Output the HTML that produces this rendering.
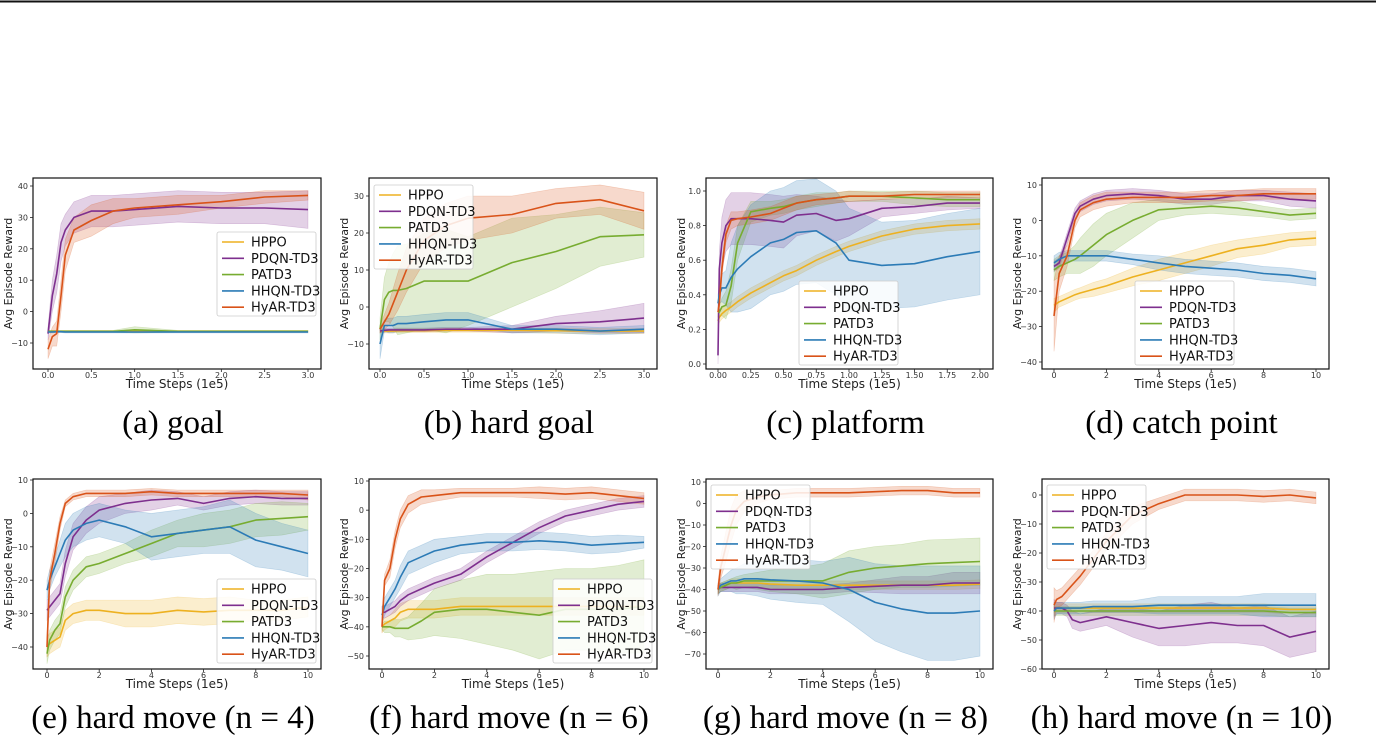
<!DOCTYPE html>
<html><head><meta charset="utf-8">
<style>
html,body{margin:0;padding:0;background:#fff;}
svg{display:block;}
text{font-family:"DejaVu Sans","Liberation Sans",sans-serif;}
.cap{font-family:"Liberation Serif",serif;font-size:33px;fill:#000;}
</style></head>
<body>
<svg id="fig" width="1376" height="740" viewBox="0 0 1376 740" xmlns="http://www.w3.org/2000/svg">
<rect x="0" y="0" width="1376" height="740" fill="#fff"/>
<rect x="0" y="0.5" width="1376" height="2" fill="#111"/>
</svg>
<script>
// ---------- data ----------
const seriesNames = ["HPPO","PDQN-TD3","PATD3","HHQN-TD3","HyAR-TD3"];
const seriesColors = ["#EDB120","#7E2F8E","#77AC30","#2C7BB6","#D95319"];

const xsA = [0,0.05,0.1,0.15,0.2,0.3,0.5,0.75,1.0,1.5,2.0,2.5,3.0];
const meanA = [
 [-6.3,-6.3,-6.3,-6.3,-6.3,-6.3,-6.3,-6.3,-6.2,-6.3,-6.3,-6.3,-6.3],
 [-7,5,12,22,26,30,32,32,32.5,33.5,33,33,32.5],
 [-6.3,-6.3,-6.3,-6.3,-6.3,-6.3,-6.3,-6.3,-5.8,-6.3,-6.3,-6.3,-6.3],
 [-6.5,-6.5,-6.4,-6.4,-6.5,-6.5,-6.5,-6.5,-6.5,-6.5,-6.5,-6.5,-6.5],
 [-12,-8,-7,5,18,26,29,32,33,34,35,36.5,37]];
const bandA = [
 [0.3,0.3,0.3,0.3,0.3,0.3,0.3,0.3,0.3,0.3,0.3,0.3,0.3],
 [2,5,6,6,5,5,5,5,5,5,5,5,6],
 [0.3,0.3,0.3,0.3,0.3,0.3,0.3,0.3,1,0.3,0.3,0.3,0.3],
 [0.3,0.3,0.3,0.3,0.3,0.3,0.3,0.3,0.3,0.3,0.3,0.3,0.3],
 [3,3,4,5,5,4,5,4,3,3,2,2,1.5]];

const xsB = [0,0.05,0.1,0.15,0.2,0.3,0.5,0.75,1.0,1.5,2.0,2.5,3.0];
const meanB = [
 [-6.5,-6.5,-6.5,-6.5,-6.4,-6.4,-6.4,-6.3,-6.3,-6.3,-6.4,-6.5,-6.5],
 [-6.5,-6.3,-6.2,-6.2,-6.2,-6.2,-6.2,-6,-6,-6,-4.5,-4,-3],
 [-6,2,4,4.5,4.5,5,7,7,7,12,15,19,19.5],
 [-10,-5,-5,-5,-4.5,-4.5,-4,-3.5,-3.5,-6,-6,-6.5,-6],
 [-6,-4,-2,1,4,10,18,22,24,25,28,29,26]];
const bandB = [
 [0.5,0.5,0.5,0.5,0.5,0.5,0.5,0.5,0.5,0.5,0.7,0.7,0.7],
 [0.5,0.5,0.5,0.5,0.5,0.5,0.5,0.5,0.5,1,2,3,4],
 [3,6,8,10,12,12,13,14,12,12,10,8,6],
 [4,1.5,2,2,2,2,2,2,2,1,1,1,1],
 [1,2,3,4,5,6,6,6,6,5,4,4,5]];

const xsC = [0,0.01,0.03,0.06,0.1,0.15,0.25,0.4,0.5,0.6,0.75,0.9,1.0,1.25,1.5,1.75,2.0];
const meanC = [
 [0.25,0.27,0.29,0.31,0.33,0.36,0.41,0.47,0.51,0.54,0.6,0.65,0.68,0.74,0.78,0.8,0.81],
 [0.05,0.55,0.7,0.8,0.84,0.84,0.84,0.83,0.82,0.86,0.87,0.83,0.84,0.9,0.91,0.93,0.93],
 [0.3,0.3,0.33,0.34,0.45,0.7,0.88,0.9,0.91,0.93,0.95,0.96,0.97,0.97,0.96,0.95,0.95],
 [0.35,0.4,0.44,0.44,0.5,0.55,0.62,0.7,0.72,0.76,0.77,0.7,0.6,0.57,0.58,0.62,0.65],
 [0.3,0.35,0.55,0.75,0.83,0.84,0.85,0.87,0.9,0.93,0.95,0.96,0.97,0.97,0.98,0.98,0.98]];
const bandC = [
 [0.03,0.03,0.03,0.03,0.03,0.03,0.03,0.03,0.03,0.03,0.03,0.03,0.03,0.03,0.03,0.03,0.03],
 [0.05,0.1,0.15,0.15,0.15,0.15,0.15,0.15,0.15,0.12,0.1,0.12,0.1,0.05,0.04,0.04,0.03],
 [0.03,0.03,0.05,0.08,0.1,0.1,0.06,0.04,0.04,0.04,0.04,0.03,0.03,0.03,0.04,0.04,0.04],
 [0.05,0.05,0.08,0.1,0.2,0.25,0.3,0.3,0.3,0.3,0.3,0.3,0.3,0.25,0.25,0.25,0.25],
 [0.03,0.05,0.05,0.05,0.05,0.04,0.04,0.04,0.04,0.04,0.03,0.03,0.03,0.02,0.02,0.02,0.02]];

const xsD = [0,0.2,0.5,0.8,1,1.5,2,3,4,5,6,7,8,9,10];
const meanD = [
 [-24,-23,-22,-21,-20.5,-19.5,-18.5,-16,-14,-12,-10,-8,-7,-5.5,-5],
 [-13,-12,-5,2,4,6,7,7.5,7,6,6,7,7,6,5.5],
 [-14,-13,-12,-11,-10,-7,-4,0,3,3.5,4,3.5,2.5,1.5,2],
 [-12,-11,-10,-10,-10,-10,-10,-11,-12,-13,-13.5,-14,-15,-15.5,-16.5],
 [-27,-15,-10,0,3,5,6,6.5,6.5,6.5,7,7,7.5,7.5,7.5]];
const bandD = [
 [2,1.5,1.5,1.5,1.5,2,2,2.5,3,3,3,2.5,2.5,2,2],
 [1.5,1.5,1.5,1.5,1.5,1.5,1.5,1.5,1.5,1.5,1.5,1.5,1.5,2,2],
 [3,3,3,4,5,6,6,5,3,2,2,2,1.5,1.5,1.5],
 [2,2,1.5,1.5,1.5,1.5,1.5,1.5,2,2,2,2,2,2,2],
 [10,5,3,2,2,2,2,1.5,1.5,1.5,1.5,1.5,1.5,1.5,1.5]];

const xsE = [0,0.1,0.3,0.5,0.7,1,1.5,2,3,4,5,6,7,8,9,10];
const meanE = [
 [-40,-39,-38,-37,-32,-30,-29,-29,-30,-30,-29,-29.5,-29,-29,-29,-28],
 [-29,-28,-26,-24,-15,-7,-2,1,3,4,4.5,3,4.5,5,4.5,4.5],
 [-42,-38,-35,-33,-25,-20,-16,-15,-12,-9,-6,-5,-4,-2,-1.5,-1],
 [-23,-20,-16,-12,-8,-5,-3,-2,-4,-7,-6,-5,-4,-8,-10,-12],
 [-40,-20,-12,-3,3,5,6,6,6,6.5,6,6,6,6,6,5.5]];
const bandE = [
 [3,3,3,3,3,3,3,3,4,4,4,4,4,3,3,3],
 [3,3,3,3,4,4,4,4,3,3,2,2,2,2,2,2],
 [3,3,3,3,3,3,3,3,3,4,4,5,5,5,5,4],
 [3,3,3,4,5,5,5,5,5,7,7,7,8,8,7,7],
 [3,3,3,2,1,1,1,1,1,1,1,1,1,1,1,1.5]];

const xsF = [0,0.1,0.3,0.5,0.7,1,1.5,2,3,4,5,6,7,8,9,10];
const meanF = [
 [-40,-39,-38,-37,-35,-34,-34,-34,-33,-33,-33,-33,-33,-33,-33,-33],
 [-35,-35,-34,-33,-31,-29,-27,-25,-22,-16,-11,-6,-2,0,2,3],
 [-40,-40,-40,-40.5,-40.5,-40.5,-38,-35,-34,-34,-35,-36,-34,-34,-34,-33],
 [-36,-33,-30,-27,-23,-18,-16,-14,-12,-11,-11,-10.5,-11,-12,-11.5,-11],
 [-40,-24,-20,-10,-3,2,4.5,5,6,6,6,6,5.5,6,5,4]];
const bandF = [
 [2,2,2,3,3,3,3,3,3,3,3,3,3,3,3,3],
 [2,2,2,2,2,2,2,2,2,2,2,2,2,2,2,2],
 [1,2,2,3,3,4,6,8,10,12,13,15,14,14,15,16],
 [3,3,3,3,4,4,4,4,3,3,3,3,3,3,3,2],
 [2,2,3,3,3,3,2.5,2,1.5,1.5,1.5,2,2,2,2,2]];

const xsG = [0,0.1,0.3,0.5,0.7,1,1.5,2,3,4,5,6,7,8,9,10];
const meanG = [
 [-40,-39,-38,-37,-37,-37,-37,-37.5,-38,-38,-38,-38,-38,-38,-38,-37.5],
 [-40,-39,-39,-39,-39,-39,-39,-40,-40,-40,-39,-38.5,-38,-38,-37,-37],
 [-40,-39,-38,-37,-37,-36,-36,-36,-36,-36,-32,-30,-29,-28,-27.5,-27],
 [-40,-38,-37,-36,-36,-35,-35,-35.5,-36,-37,-40,-46,-49,-51,-51,-50],
 [-40,-30,-20,-10,-3,1,3,4,5,5,5,5.5,6,6,5,5]];
const bandG = [
 [2,2,2,2,2,2,2,2,2,2,2,2,2,2,2,2],
 [2,2,2,2,2,2,2,2,2,2,2,3,4,4,5,5],
 [2,2,2,2,3,3,4,5,6,8,10,10,10,11,11,11],
 [3,3,4,5,6,7,8,9,10,10,15,18,20,22,22,21],
 [3,5,7,8,7,5,3,2,2,2,2,2,2,2,2,2]];

const xsH = [0,0.1,0.3,0.5,0.7,1,1.5,2,3,4,5,6,7,8,9,10];
const meanH = [
 [-39,-39,-39,-39,-39,-39,-39,-39,-39,-39,-39,-39,-39,-39,-39.5,-39.5],
 [-39,-39,-39,-40,-43,-44,-43,-42,-44,-46,-45,-44,-45,-45,-49,-47],
 [-40,-40,-40,-40,-40,-40,-40,-40,-40,-40,-40,-40,-40,-40,-40.5,-40.5],
 [-40,-39,-39,-39,-39,-39,-38.5,-38.5,-38.5,-38,-38,-38,-38,-38,-38,-38],
 [-38,-36,-35,-33,-31,-28,-22,-16,-7,-3,0,0,0,-0.5,0,-1]];
const bandH = [
 [1.5,1.5,1.5,1.5,1.5,1.5,1.5,1.5,1.5,1.5,1.5,1.5,1.5,1.5,1.5,1.5],
 [3,2,2,2,3,3,3,3,5,6,7,7,6,7,7,7],
 [1.5,1.5,1.5,1.5,1.5,1.5,1.5,1.5,1.5,1.5,1.5,1.5,1.5,1.5,1.5,1.5],
 [3,2,2,2,2,2,2,2,2,3,3,3,3,4,4,4],
 [6,3,3,3,3,3,3,3,3,2,2,2,2,2,2,2]];

const xTicksA = ["0.0","0.5","1.0","1.5","2.0","2.5","3.0"];
const xTicksC = ["0.00","0.25","0.50","0.75","1.00","1.25","1.50","1.75","2.00"];
const xTicks10 = ["0","2","4","6","8","10"];
const yTicksA = ["−10","0","10","20","30","40"];
const yTicksB = ["−10","0","10","20","30"];
const yTicksC = ["0.0","0.2","0.4","0.6","0.8","1.0"];
const yTicksD = ["−40","−30","−20","−10","0","10"];
const yTicksE = ["−40","−30","−20","−10","0","10"];
const yTicksF = ["−50","−40","−30","−20","−10","0","10"];
const yTicksG = ["−70","−60","−50","−40","−30","−20","−10","0","10"];
const yTicksH = ["−60","−50","−40","−30","−20","−10","0"];
const captions = ["(a)  goal","(b)  hard goal","(c)  platform","(d)  catch point","(e)  hard move (n = 4)","(f)  hard move (n = 6)","(g)  hard move (n = 8)","(h)  hard move (n = 10)"];

// ---------- geometry ----------
const NS="http://www.w3.org/2000/svg";
const svg=document.getElementById('fig');
function el(tag,attrs,parent){const e=document.createElementNS(NS,tag);for(const k in attrs)e.setAttribute(k,attrs[k]);(parent||svg).appendChild(e);return e;}
const num=s=>parseFloat(s.replace('−','-'));

const panels=[
 {id:'a',xs:xsA,mean:meanA,band:bandA,xt:xTicksA,yt:yTicksA,box:[33,178,321,369],xp:[48,308],yp:[343,186],leg:[217,232]},
 {id:'b',xs:xsB,mean:meanB,band:bandB,xt:xTicksA,yt:yTicksB,box:[369,178,657,369],xp:[380,644],yp:[344,196],leg:[374,185]},
 {id:'c',xs:xsC,mean:meanC,band:bandC,xt:xTicksC,yt:yTicksC,box:[706,178,993,369],xp:[718,980],yp:[364,191],leg:[799,281]},
 {id:'d',xs:xsD,mean:meanD,band:bandD,xt:xTicks10,yt:yTicksD,box:[1042,178,1329,369],xp:[1054,1316],yp:[362,185],leg:[1135,281]},
 {id:'e',xs:xsE,mean:meanE,band:bandE,xt:xTicks10,yt:yTicksE,box:[33,479,321,669],xp:[47,308],yp:[647,480],leg:[217,579]},
 {id:'f',xs:xsF,mean:meanF,band:bandF,xt:xTicks10,yt:yTicksF,box:[369,479,657,669],xp:[382,644],yp:[656,481],leg:[553,579]},
 {id:'g',xs:xsG,mean:meanG,band:bandG,xt:xTicks10,yt:yTicksG,box:[706,479,993,669],xp:[718,980],yp:[654,482],leg:[711,485]},
 {id:'h',xs:xsH,mean:meanH,band:bandH,xt:xTicks10,yt:yTicksH,box:[1042,479,1329,669],xp:[1054,1316],yp:[669,495],leg:[1047,485]}
];

panels.forEach((p,pi)=>{
  const [x0,y0,x1,y1]=p.box;
  const g=el('g',{});
  
  
  const xv0=num(p.xt[0]),xv1=num(p.xt[p.xt.length-1]);
  const yv0=num(p.yt[0]),yv1=num(p.yt[p.yt.length-1]);
  const sx=v=>p.xp[0]+(v-xv0)/(xv1-xv0)*(p.xp[1]-p.xp[0]);
  const sy=v=>p.yp[0]+(v-yv0)/(yv1-yv0)*(p.yp[1]-p.yp[0]);
  const clip='clip'+p.id;
  const cp=el('clipPath',{id:clip},g);el('rect',{x:x0,y:y0,width:x1-x0,height:y1-y0},cp);
  const plot=el('g',{'clip-path':'url(#'+clip+')'},g);
  p.mean.forEach((m,si)=>{
    const b=p.band[si];
    let d='M'+p.xs.map((x,i)=>sx(x).toFixed(1)+','+sy(m[i]+b[i]).toFixed(1)).join('L');
    for(let i=p.xs.length-1;i>=0;i--) d+='L'+sx(p.xs[i]).toFixed(1)+','+sy(m[i]-b[i]).toFixed(1);
    const a=el('path',{d:d+'Z',fill:seriesColors[si],'fill-opacity':0.22,stroke:seriesColors[si],'stroke-opacity':0.25,'stroke-width':0.6},plot);
    
    
  });
  p.mean.forEach((m,si)=>{
    const l=el('polyline',{points:p.xs.map((x,i)=>sx(x).toFixed(1)+','+sy(m[i]).toFixed(1)).join(' '),fill:'none',stroke:seriesColors[si],'stroke-width':1.6,'stroke-linejoin':'round'},plot);
    
    
  });
  const fr=el('rect',{x:x0,y:y0,width:x1-x0,height:y1-y0,fill:'none',stroke:'#111','stroke-width':1.2},g);
  
  
  p.xt.forEach(t=>{
    const x=sx(num(t));
    el('line',{x1:x,x2:x,y1:y1,y2:y1+3,stroke:'#222','stroke-width':0.8},g);
    const tx=el('text',{x:x,y:y1+9,'font-size':8,'text-anchor':'middle',fill:'#333'},g);
    tx.textContent=t;
    
    
  });
  p.yt.forEach(t=>{
    const y=sy(num(t));
    el('line',{x1:x0-3,x2:x0,y1:y,y2:y,stroke:'#222','stroke-width':0.8},g);
    const tx=el('text',{x:x0-5,y:y+3,'font-size':8,'text-anchor':'end',fill:'#333'},g);
    tx.textContent=t;
    
    
  });
  const xl=el('text',{x:(x0+x1)/2,y:y1+19,'font-size':12,'text-anchor':'middle',fill:'#222'},g);
  xl.textContent='Time Steps (1e5)';
  
  
  const yl=el('text',{x:0,y:0,'font-size':11,'text-anchor':'middle',fill:'#222',transform:'translate('+(x0-21)+','+((y0+y1)/2)+') rotate(-90)'},g);
  yl.textContent='Avg Episode Reward';
  
  
  const [lx,ly]=p.leg;
  const lg=el('g',{},g);
  
  
  el('rect',{x:lx,y:ly,width:99,height:84,rx:2,fill:'#fff','fill-opacity':0.85,stroke:'#ccc','stroke-width':0.8},lg);
  seriesNames.forEach((n,si)=>{
    const yy=ly+10+si*16.3;
    el('line',{x1:lx+5,x2:lx+27,y1:yy,y2:yy,stroke:seriesColors[si],'stroke-width':1.6},lg);
    const t=el('text',{x:lx+34,y:yy+4.5,'font-size':13,fill:'#111'},lg);
    t.textContent=n;
    
    
  });
  const c=el('text',{x:(x0+x1)/2-4,y:pi<4?433:728,'class':'cap','text-anchor':'middle'},svg);
  c.textContent=captions[pi];
  
  
});
</script>
</body></html>
